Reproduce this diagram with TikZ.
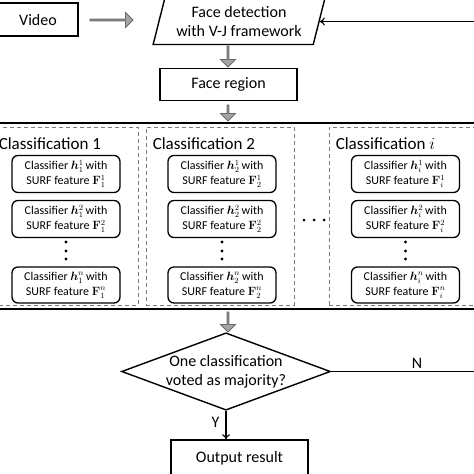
\RequirePackage{fix-cm}
\documentclass[tikz,border=0pt]{standalone}
\usepackage{amsmath}
\usepackage{amssymb}
\usepackage{bm}
\usepackage[no-math]{fontspec}
\setmainfont{Carlito}
\usepackage{tikz}
\usetikzlibrary{positioning,calc,shapes.geometric,shapes.arrows,arrows.meta}
\definecolor{arrowgray}{RGB}{165,165,165}
\definecolor{arrowedge}{RGB}{105,105,105}
\definecolor{dashgray}{RGB}{125,125,125}

\begin{document}
\begin{tikzpicture}[x=1pt, y=-1pt,
  box/.style={draw, line width=1.4pt, minimum width=137pt, minimum height=32pt, inner sep=0pt, font=\fontsize{16}{19}\selectfont},
  clsbox/.style={draw, line width=1.3pt, rounded corners=6pt, minimum width=108pt, minimum height=37pt, inner sep=0pt, align=center, font=\fontsize{12}{15}\selectfont},
  group/.style={draw=dashgray, line width=0.9pt, dash pattern=on 4pt off 3pt, minimum height=178pt},
  title/.style={inner sep=0pt, font=\fontsize{17}{20}\selectfont},
  bigarrow/.style={single arrow, draw=arrowedge, fill=arrowgray, line width=0.8pt, minimum width=15pt, single arrow head extend=3pt, inner sep=0pt},
  conn/.style={line width=1.1pt, -{To[length=5pt,width=8pt]}},
  lab/.style={inner sep=2pt, font=\fontsize{16}{19}\selectfont}
]
  \useasboundingbox (0,0) rectangle (474,474);
  \clip (0,0) rectangle (474,474);

  % input and detection
  \node[box, minimum width=80pt, minimum height=33pt] (video) at (38,19.5) {Video};
  \node[trapezium, trapezium left angle=72, trapezium right angle=108, trapezium stretches=true,
        draw, line width=1.4pt, minimum width=172pt, minimum height=46pt, inner sep=0pt,
        align=center, font=\fontsize{16}{19}\selectfont] (det) at (239,21.5) {Face detection\\with V-J framework};
  \node[box] (region) at (228.5,84.5) {Face region};

  % classifier bank
  \node[draw, line width=1.6pt, minimum width=500pt, minimum height=186pt] (bank) at (237,216) {};
  \node[group, minimum width=146pt] (cls1) at (65,216) {};
  \node[group, minimum width=148pt] (cls2) at (220,216) {};
  \node[group, minimum width=153pt] (cls3) at (405.5,216) {};

  \foreach \c/\x/\s/\t in {1/66/1/1, 2/222/2/2, 3/405.5/i/{$i$}}{
    \node[title, anchor=west] (t\c) at ([xshift=7pt,yshift=-17pt]cls\c.north west) {Classification \t};
    \node[clsbox] (h\c-1) at (\x,174) {Classifier $\bm{h}^1_\s$\,with\\SURF feature $\mathbf{F}^1_\s$};
    \node[clsbox] (h\c-2) at (\x,219) {Classifier $\bm{h}^2_\s$\,with\\SURF feature $\mathbf{F}^2_\s$};
    \node[clsbox, minimum height=36pt] (h\c-n) at (\x,285) {Classifier $\bm{h}^n_\s$\,with\\SURF feature $\mathbf{F}^n_\s$};
    \foreach \dy in {242,251,259}
      \fill (\x,\dy) circle (1.6pt);
  }
  \foreach \dx in {304,314,324}
    \fill (\dx,220) circle (1.5pt);

  % block arrows
  \node[bigarrow, minimum height=43pt] (a1) at (111,20) {};
  \node[bigarrow, shape border rotate=270, minimum height=21pt] (a2) at (228,56) {};
  \node[bigarrow, shape border rotate=270, minimum height=16pt] (a3) at (228,112.5) {};
  \node[bigarrow, shape border rotate=270, minimum height=20pt] (a4) at (228,321.5) {};

  % decision
  \node[diamond, draw, line width=1.4pt, aspect=2.7, inner sep=0pt, align=center,
        font=\fontsize{16}{19}\selectfont] (dec) at (226,371.5) {One classification\\voted as majority?};
  \node[box, minimum height=36pt] (out) at (239.5,458) {Output result};

  \draw[conn] (dec.south) -- node[lab, left, pos=0.4, inner xsep=6pt] (ylab) {Y} (dec.south |- out.north);
  \draw[conn] (dec.east) -- node[lab, above, pos=0.39] (nlab) {N} ++(220,0) |- (det);
\end{tikzpicture}
\end{document}
